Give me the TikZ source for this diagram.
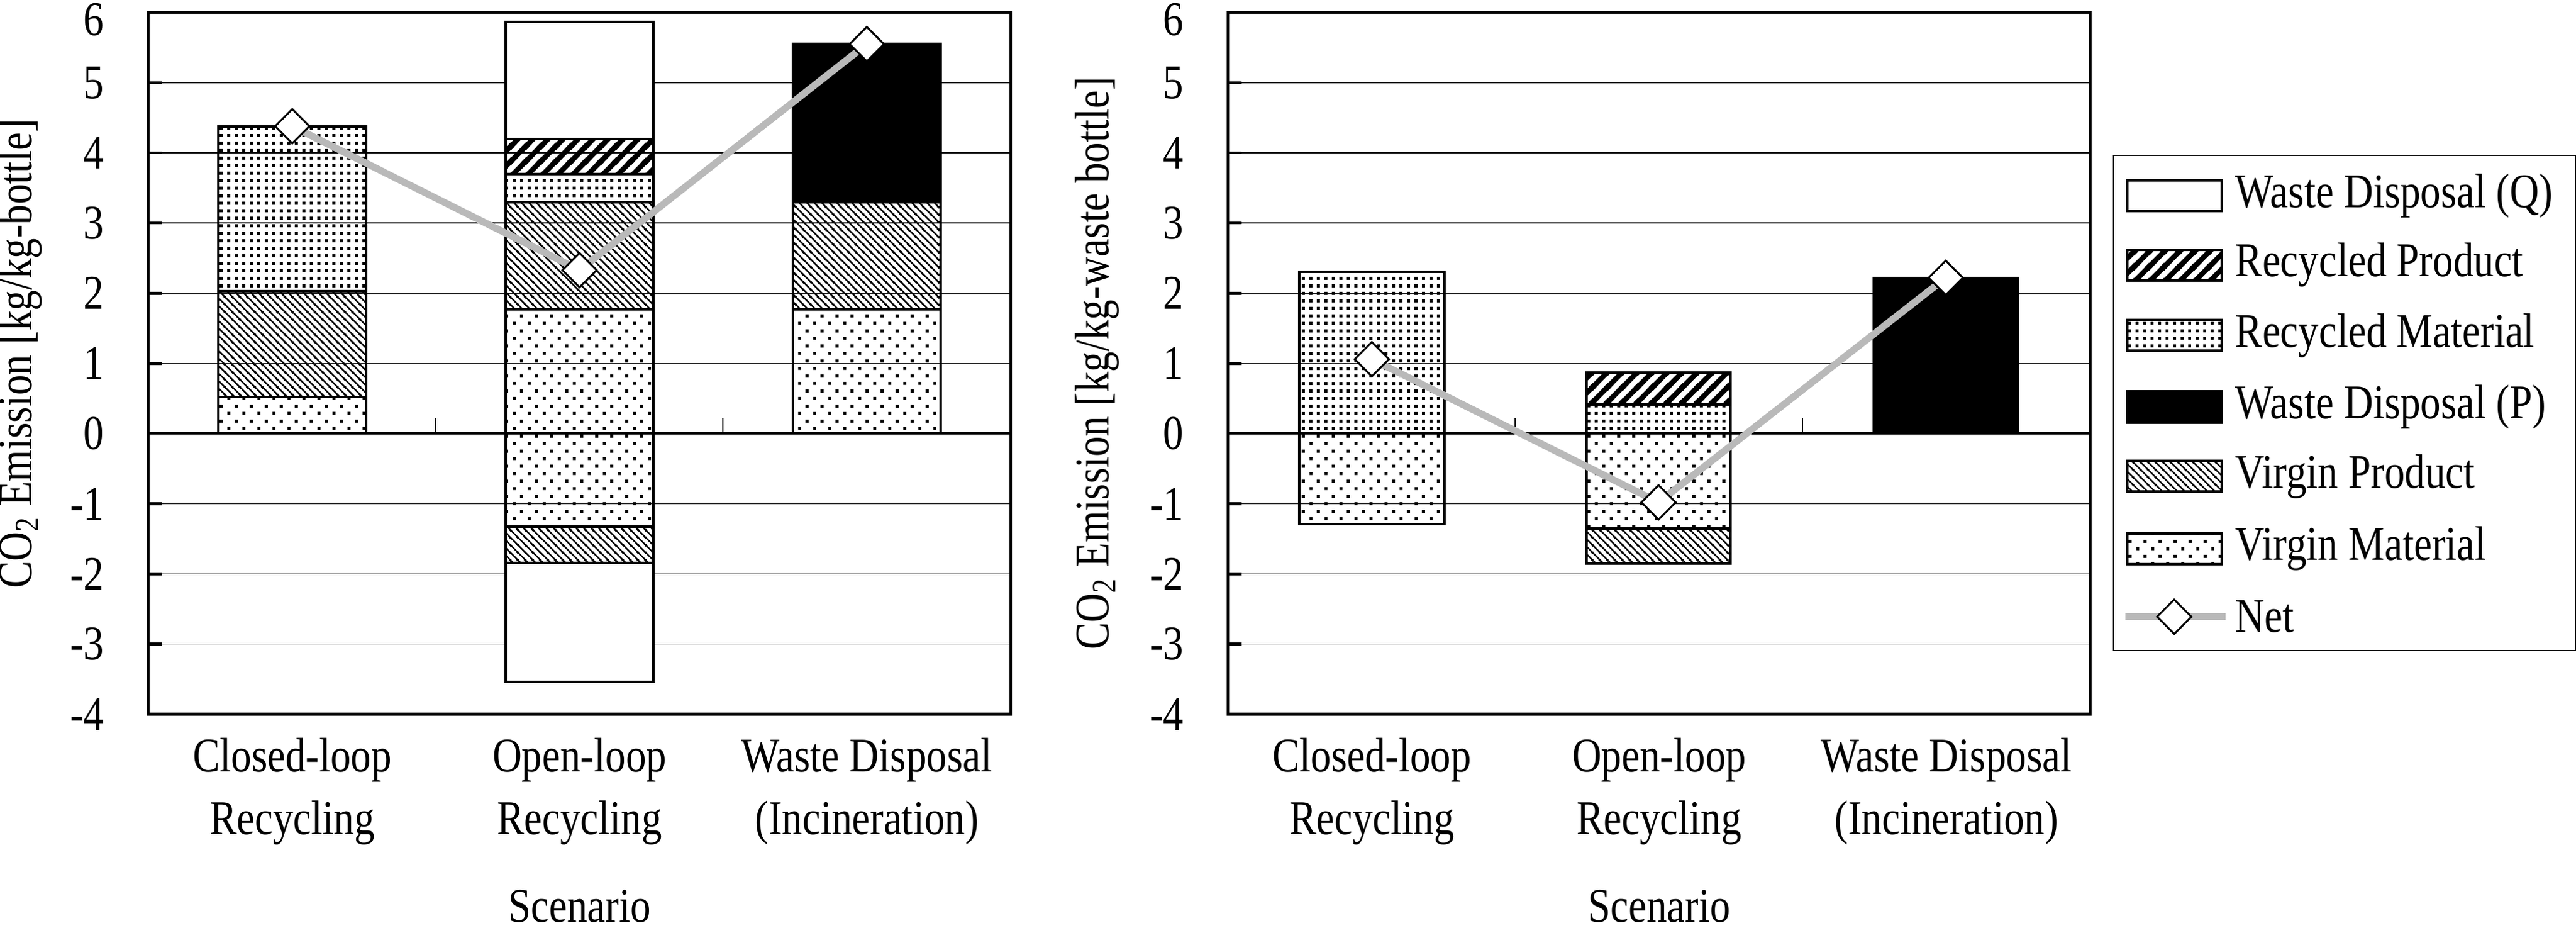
\documentclass[tikz,border=0pt]{standalone}
\usepackage{fontspec}
\setmainfont{Liberation Serif}
\newfontfamily\tnr[FakeStretch=0.84]{Liberation Serif}
\usetikzlibrary{patterns,patterns.meta,shapes.geometric}
\tikzdeclarepattern{name=rmdots,type=uncolored,bottom left={(0,0)},top right={(0.12cm,0.12cm)},tile size={(0.12cm,0.12cm)},
  code={\fill (0.035cm,0.035cm) rectangle (0.085cm,0.085cm);}}
\tikzdeclarepattern{name=vmdots,type=uncolored,bottom left={(0,0)},top right={(0.24cm,0.24cm)},tile size={(0.24cm,0.24cm)},
  code={\fill (0.035cm,0.035cm) rectangle (0.085cm,0.085cm);\fill (0.155cm,0.155cm) rectangle (0.205cm,0.205cm);}}
\tikzdeclarepattern{name=vplines,type=uncolored,bottom left={(0,0)},top right={(0.12cm,0.12cm)},tile size={(0.12cm,0.12cm)},
  code={\draw[line width=0.025cm] (-0.02cm,0.14cm)--(0.14cm,-0.02cm);\draw[line width=0.025cm] (-0.14cm,0.14cm)--(0.02cm,-0.02cm);\draw[line width=0.025cm] (0.1cm,0.14cm)--(0.26cm,-0.02cm);}}
\tikzdeclarepattern{name=rplines,type=uncolored,bottom left={(0,0)},top right={(0.24cm,0.24cm)},tile size={(0.24cm,0.24cm)},
  code={\foreach \s in {-0.24,0,0.24}{\draw[line width=0.085cm] (\s cm-0.03cm,-0.03cm)--(\s cm+0.27cm,0.27cm);}}}
\tikzset{
  bar/.style={draw=black,line width=0.04cm},
  wq/.style={bar,fill=white},
  rp/.style={bar,pattern=rplines,pattern color=black},
  rm/.style={bar,pattern=rmdots,pattern color=black},
  wp/.style={bar,fill=black},
  vp/.style={bar,pattern=vplines,pattern color=black},
  vm/.style={bar,pattern=vmdots,pattern color=black},
  grid/.style={line width=0.015cm},
  frame/.style={line width=0.045cm},
  netline/.style={line width=0.11cm,draw=gray!55},
  netpt/.style={draw=black,fill=white,line width=0.03cm,shape=diamond,minimum size=0.56cm,inner sep=0pt,aspect=1},
  lab/.style={font=\tnr\fontsize{22}{25}\selectfont,inner sep=0pt},
}
\begin{document}
\begin{tikzpicture}[x=0.01cm,y=1.12cm]
\useasboundingbox (0,-7.045) rectangle (4116,6.179);
\foreach \xl/\xr/\pn in {237/1615/L,1962/3340/R}{
  \foreach \v in {-3,-2,-1,1,2,3,4,5}{
    \draw[grid] (\xl,\v)--(\xr,\v);
    \draw[line width=0.045cm] (\xl,\v)--(\xl+22,\v);
  }
  \foreach \v in {-4,...,5}{
    \node[lab,anchor=east] (t\pn\v) at (\xl-70,\v) {\v};
  }
  \node[lab,anchor=east] (t\pn6) at (\xl-70,5.9) {6};
}
% left bars
\draw[vm] (349,0) rectangle (585,0.52);
\draw[vp] (349,0.52) rectangle (585,2.03);
\draw[rm] (349,2.03) rectangle (585,4.38);
\draw[vm] (808,0) rectangle (1044,1.77);
\draw[vp] (808,1.77) rectangle (1044,3.3);
\draw[rm] (808,3.3) rectangle (1044,3.7);
\draw[rp] (808,3.7) rectangle (1044,4.2);
\draw[wq] (808,4.2) rectangle (1044,5.87);
\draw[vm] (808,0) rectangle (1044,-1.33);
\draw[vp] (808,-1.33) rectangle (1044,-1.84);
\draw[wq] (808,-1.84) rectangle (1044,-3.54);
\draw[vm] (1267,0) rectangle (1503,1.77);
\draw[vp] (1267,1.77) rectangle (1503,3.3);
\draw[wp] (1267,3.3) rectangle (1503,5.55);
% right bars
\draw[rm] (2076,0) rectangle (2308,2.31);
\draw[vm] (2076,0) rectangle (2308,-1.29);
\draw[rm] (2535,0) rectangle (2765,0.41);
\draw[rp] (2535,0.41) rectangle (2765,0.87);
\draw[vm] (2535,0) rectangle (2765,-1.35);
\draw[vp] (2535,-1.35) rectangle (2765,-1.85);
\draw[wp] (2994,0) rectangle (3224,2.22);
% zero lines, ticks, frames
\foreach \xl/\xr/\ba/\bb in {237/1615/696/1155,1962/3340/2421/2880}{
  \draw[line width=0.04cm] (\xl,0)--(\xr,0);
  \draw[line width=0.02cm] (\ba,0)--(\ba,0.22);
  \draw[line width=0.02cm] (\bb,0)--(\bb,0.22);
  \draw[frame] (\xl,-4) rectangle (\xr,6);
}
% net lines
\coordinate (a1) at (467,4.38);
\coordinate (a2) at (926,2.33);
\coordinate (a3) at (1385,5.55);
\coordinate (b1) at (2192,1.06);
\coordinate (b2) at (2650,-0.98);
\coordinate (b3) at (3109,2.22);
\draw[netline] (a1)--(a2)--(a3);
\draw[netline] (b1)--(b2)--(b3);
\foreach \c in {a1,a2,a3,b1,b2,b3}{\node[netpt] (d\c) at (\c) {};}
% axis titles
\node[lab,rotate=90] (ylL) at (32,1.14) {CO\textsubscript{2} Emission [kg/kg-bottle]};
\node[lab,rotate=90] (ylR) at (1753,1.0) {CO\textsubscript{2} Emission [kg/kg-waste bottle]};
\foreach \x/\q in {0/L,1725/R}{
  \node[lab,align=center] (c1\q) at (467+\x,-5.1) {Closed-loop\\[0.12cm]Recycling};
  \node[lab,align=center] (c2\q) at (926+\x,-5.1) {Open-loop\\[0.12cm]Recycling};
  \node[lab,align=center] (c3\q) at (1385+\x,-5.1) {Waste Disposal\\[0.12cm](Incineration)};
  \node[lab] (sc\q) at (926+\x,-6.74) {Scenario};
}
% legend
\draw[line width=0.015cm] (3377,3.96) rectangle (4115,-3.09);
\foreach \y/\st/\t [count=\i] in {3.39/wq/Waste Disposal (Q),2.40/rp/Recycled Product,1.40/rm/Recycled Material,0.38/wp/Waste Disposal (P),-0.61/vp/Virgin Product,-1.64/vm/Virgin Material}{
  \draw[\st] (3399,\y-0.22) rectangle (3550,\y+0.22);
  \node[lab,anchor=west] (lg\i) at (3571,\y) {\t};
}
\coordinate (ln1) at (3396,-2.61);
\coordinate (ln2) at (3556,-2.61);
\draw[netline] (ln1)--(ln2);
\node[netpt] (lnd) at (3474,-2.61) {};
\node[lab,anchor=west] (lg7) at (3571,-2.61) {Net};
\end{tikzpicture}
\end{document}
